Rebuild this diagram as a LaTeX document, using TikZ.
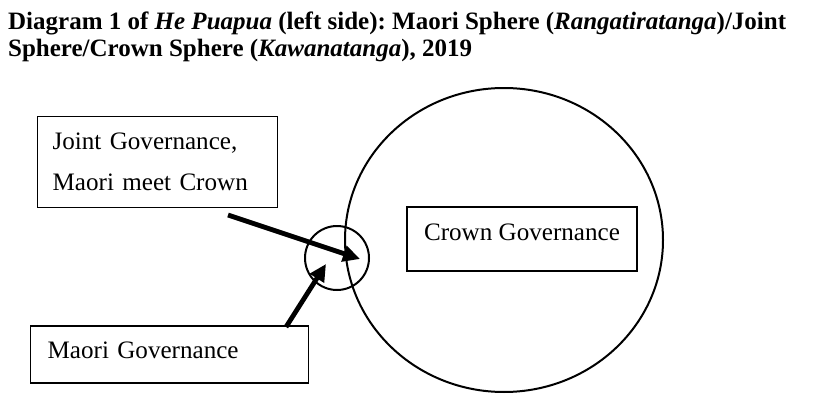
\documentclass[tikz,border=0pt]{standalone}
\usepackage{fontspec}
\setmainfont{Liberation Serif}
\usetikzlibrary{arrows.meta}
\frenchspacing

\tikzset{
  govbox/.style={draw, line width=1.3pt, inner ysep=0pt},
  sphere/.style={draw, line width=2pt, inner sep=0pt},
  pointer/.style={line width=4.8pt, -{Triangle[length=17pt,width=16pt]}}
}

\begin{document}
\begin{tikzpicture}[x=1pt, y=-1pt, font=\fontsize{25.1}{41}\selectfont]
    \useasboundingbox (0,0) rectangle (823,415);
    \node (title) [anchor=north west, inner sep=0pt, align=left, font=\fontsize{25}{27}\selectfont\bfseries] at (8,12)
      {Diagram 1 of \textit{He Puapua} (left side): Maori Sphere (\textit{Rangatiratanga})/Joint\\Sphere/Crown Sphere (\textit{Kawanatanga}), 2019};
    \draw[sphere] (504,240) ellipse [x radius=159pt, y radius=152pt];
    \draw[sphere] (337,258) circle [radius=32pt];
    \node (crown) [govbox, anchor=base, minimum width=230pt, inner xsep=0pt, text height=33pt, text depth=31pt] at (522,240) {Crown Governance};
    \node (joint) [govbox, anchor=north west, align=left, text width=210pt, inner xsep=15pt, minimum height=91pt] at (37,116)
      {Joint Governance,\\Maori meet Crown};
    \node (maori) [govbox, anchor=base west, text width=244pt, inner xsep=17pt, text height=32pt, text depth=25pt] at (30,358) {Maori Governance};
    \coordinate (jointtail) at (228,215);
    \coordinate (jointtip) at (360,259);
    \coordinate (maoritail) at (286,327);
    \coordinate (maoritip) at (326,264);
    \draw[pointer] (jointtail) -- (jointtip);
    \draw[pointer] (maoritail) -- (maoritip);
\end{tikzpicture}
\end{document}
